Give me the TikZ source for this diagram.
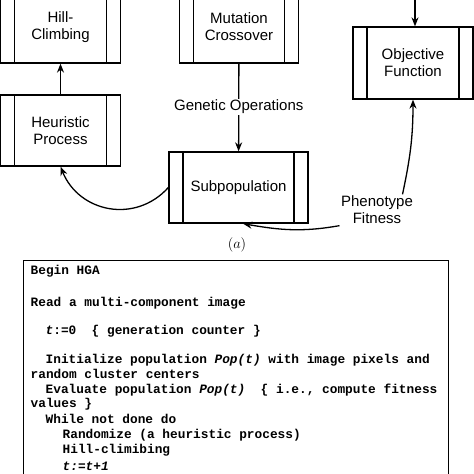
\documentclass[tikz,border=0pt]{standalone}
\usepackage{fontspec}
\setmainfont{Liberation Sans}
\newfontfamily\codefont{Liberation Mono}
\usetikzlibrary{arrows.meta}
\usetikzlibrary{positioning}

\newcommand{\labelfont}{\fontsize{15}{17}\selectfont}

\begin{document}
\begin{tikzpicture}[x=1pt,y=1pt,->,>={Stealth[length=9pt,width=7pt]},line width=1.3pt,
  proc node/.style={rectangle,fill=white,draw,minimum width=120pt,minimum height=72pt,
    inner sep=0pt,align=center,font=\labelfont,
    path picture={
      \draw[-] ([xshift=14pt]path picture bounding box.north west) -- ([xshift=14pt]path picture bounding box.south west);
      \draw[-] ([xshift=-14pt]path picture bounding box.north east) -- ([xshift=-14pt]path picture bounding box.south east);}},
  label node/.style={inner sep=1pt,align=center,font=\labelfont},
  code line/.style={anchor=base west,inner sep=0pt,font=\codefont\bfseries\fontsize{12.8}{15}\selectfont}]

  \useasboundingbox (0,0) rectangle (474,474);

  % process boxes
  \node[proc node] (hill) at (60.5,447) {Hill-\\Climbing};
  \node[proc node,minimum width=119pt] (mut) at (239,447) {Mutation\\Crossover};
  \node[proc node] (obj) at (413,411) {Objective\\Function};
  \node[proc node,minimum height=71pt] (heur) at (60.5,343.5) {Heuristic\\Process};
  \node[proc node,minimum width=139pt,minimum height=71pt] (sub) at (238.5,286.5) {Subpopulation};
  \node[label node] (fit) at (377,264) {Phenotype\\Fitness};
  \node[font=\fontsize{14}{16}\selectfont] (cap) at (237,229) {$(a)$};
  \coordinate (top) at (415,480);

  \path
    (heur) edge (hill)
    (mut) edge node[label node,fill=white,pos=0.49] (gen) {Genetic Operations} (sub)
    (top) edge (top |- obj.north)
    (sub.west) edge[out=228,in=-68,looseness=1.15] (heur.south)
    ([xshift=-12pt]fit.north east) edge[out=78,in=-90] (obj.south)
    (fit.south west) edge[out=190,in=-10] ([xshift=4.5pt]sub.south);

  % pseudo code
  \draw[-,line width=0.9pt] (23,214) rectangle (448,-10);
  \node[code line] (c1) at (30,199) {Begin HGA};
  \node[code line] (c2) at (30,167) {Read a multi-component image};
  \node[code line] (c3) at (45,139) {\textit{t}:=0\ \ \{ generation counter \}};
  \node[code line] (c4) at (45,110) {Initialize population \textit{Pop(t)} with image pixels and};
  \node[code line] (c5) at (30,95) {random cluster centers};
  \node[code line] (c6) at (45,80) {Evaluate population \textit{Pop(t)}\ \ \{ i.e., compute fitness};
  \node[code line] (c7) at (30,66) {values \}};
  \node[code line] (c8) at (45,50) {While not done do};
  \node[code line] (c9) at (62,35) {Randomize (a heuristic process)};
  \node[code line] (c10) at (62,20) {Hill-climibing};
  \node[code line] (c11) at (62,4) {\textit{t:=t+1}};
\end{tikzpicture}
\end{document}
